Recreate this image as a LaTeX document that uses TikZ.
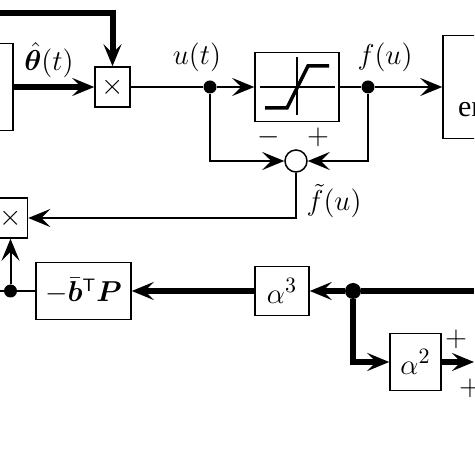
\documentclass[tikz,border=0pt]{standalone}
\usepackage[no-math]{fontspec}
\setmainfont{Liberation Serif}
\usepackage{bm}
\usetikzlibrary{arrows.meta}

\begin{document}
\begin{tikzpicture}[x=0.5pt,y=-0.5pt,font=\fontsize{15}{18}\selectfont,
    >={Stealth[length=11pt,width=9pt,inset=4.5pt]},
    blk/.style={draw,line width=0.75pt,fill=white,inner sep=0pt},
    sig/.style={line width=1pt},
    bus/.style={line width=3pt},
    dot/.style={circle,fill,inner sep=0pt,minimum size=6.5pt}]
\clip (0,0) rectangle (474,474);
% blocks
\node[blk,minimum width=33pt,minimum height=43.5pt] (est) at (-20,87) {};
\node[blk,minimum width=17.5pt,minimum height=20pt] (mul1) at (112.5,87) {$\times$};
\node[blk,minimum width=42pt,minimum height=34.5pt] (sat) at (297,87) {};
\node[blk,minimum width=57pt,minimum height=51.5pt] (plant) at (500,87) {};
\node[anchor=west] (plantlbl) at (451,110) {engine};
\node[blk,circle,minimum size=11pt] (sum) at (296,161) {};
\node[blk,minimum width=17pt,minimum height=20pt] (mul2) at (10.5,218) {$\times$};
\node[blk,minimum width=47.5pt,minimum height=28.5pt,font=\fontsize{13.5}{16}\selectfont] (bp) at (83.5,291) {$-\bar{\bm b}^{\mathsf T}\bm P$};
\node[blk,minimum width=27pt,minimum height=24.5pt] (a3) at (282,291) {$\alpha^3$};
\node[blk,minimum width=25.5pt,minimum height=28.5pt] (a2) at (415.5,362) {$\alpha^2$};
% branch points
\node[dot] (ud) at (210,87) {};
\node[dot] (fd) at (368,87) {};
\node[dot] (pd) at (10.5,291) {};
\node[dot,minimum size=8pt] (xd) at (353,291) {};
\coordinate (topin) at (0,13);
\coordinate (pdin) at (0,291);
\coordinate (xout) at (474,291);
\coordinate (a2out) at (474,362);
% saturation characteristic
\draw[sig] (260,87) -- (335,87) (297,57) -- (297,115);
\draw[line width=1.75pt] (265,108) -- (287,108) -- (308,66) -- (329,66);
% signals
\draw[bus,->] (topin) -| (mul1);
\draw[bus,->] (est) -- (mul1);
\draw[sig] (mul1) -- (ud);
\draw[sig,->] (ud) -- (sat);
\draw[sig] (sat) -- (fd);
\draw[sig,->] (fd) -- (plant);
\draw[sig,->] (ud) |- (sum);
\draw[sig,->] (fd) |- (sum);
\draw[sig,->] (sum) |- (mul2);
\draw[sig,->] (pd) -- (mul2);
\draw[sig] (pdin) -- (pd) -- (bp);
\draw[bus,->] (xd) -- (a3);
\draw[bus,->] (a3) -- (bp);
\draw[bus] (xd) -- (xout);
\draw[bus,->] (xd) |- (a2);
\draw[bus,->] (a2) -- (a2out);
% labels
\node (thlbl) at (49,60) {$\hat{\bm\theta}(t)$};
\node (ulbl) at (197,57) {$u(t)$};
\node (flbl) at (385,57) {$f(u)$};
\node (ftlbl) at (334,201) {$\tilde f(u)$};
\node (mlbl) at (269,137) {$-$};
\node (plbl) at (318,137) {$+$};
\node (p1lbl) at (456,339) {$+$};
\node (p2lbl) at (470,388) {$+$};
\end{tikzpicture}
\end{document}
